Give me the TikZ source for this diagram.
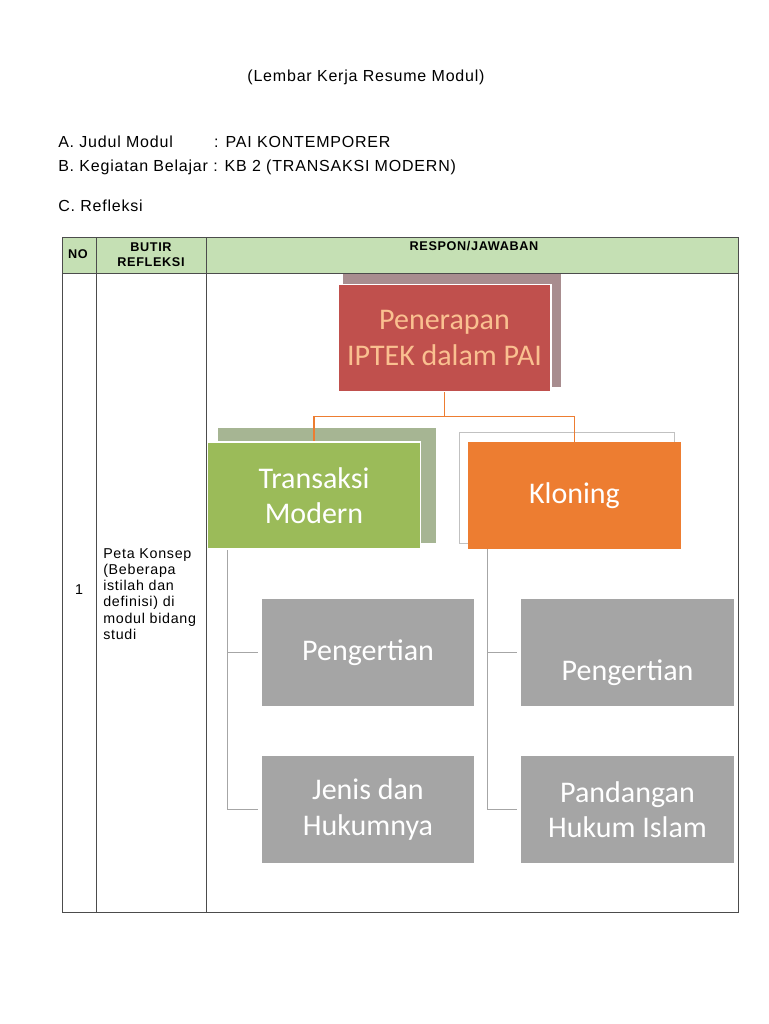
\documentclass[tikz,border=0pt]{standalone}
\usepackage{fontspec}
\setmainfont{Liberation Sans}[LetterSpace=5]
\newfontfamily\boxfont{Carlito}
\usetikzlibrary{backgrounds}
\definecolor{hdrgreen}{HTML}{C5E0B4}
\definecolor{rootred}{HTML}{C0504D}
\definecolor{rootshadow}{HTML}{A88D8F}
\definecolor{rootink}{HTML}{FAC090}
\definecolor{kbgreen}{HTML}{9BBB59}
\definecolor{kbshadow}{HTML}{A6B593}
\definecolor{klorange}{HTML}{ED7D31}
\definecolor{subgray}{HTML}{A5A5A5}
\definecolor{linkgray}{HTML}{A6A6A6}
\begin{document}
\begin{tikzpicture}[x=0.75pt,y=-0.75pt,
    docline/.style={anchor=west,inner sep=0pt,font=\fontsize{12pt}{14pt}\selectfont},
    hdr/.style={inner sep=0pt,align=center,font=\fontsize{9.5pt}{11.5pt}\selectfont\bfseries},
    cell/.style={inner sep=0pt,align=left,font=\fontsize{10.7pt}{12.2pt}\selectfont},
    tabline/.style={black!70,line width=0.6pt},
    conc/.style={minimum width=159.75pt,minimum height=80.25pt,inner sep=0pt,align=center,
      text=white,font=\boxfont\fontsize{22.5pt}{26.5pt}\selectfont},
    rootbox/.style={conc,fill=rootred,draw=white,line width=1.2pt,text=rootink},
    kbbox/.style={conc,fill=kbgreen,draw=white,line width=1.2pt},
    klbox/.style={conc,fill=klorange},
    subbox/.style={conc,fill=subgray,minimum width=159pt},
    toplink/.style={klorange,line width=0.8pt},
    sublink/.style={linkgray,line width=0.8pt,shorten >=3pt}]
  \useasboundingbox (0,0) rectangle (768,1024);
  % heading
  \node[docline,anchor=center] (judul) at (366,77) {(Lembar Kerja Resume Modul)};
  \node[docline] (modul) at (58,142) {\makebox[117pt][l]{A. Judul Modul}: PAI KONTEMPORER};
  \node[docline] (kb) at (58,167) {B. Kegiatan Belajar : KB 2 (TRANSAKSI MODERN)};
  \node[docline] (refl) at (58,206) {C. Refleksi};
  % table
  \fill[hdrgreen] (62,237) rectangle (738,273);
  \draw[tabline] (62,237) rectangle (738,912);
  \draw[tabline] (62,273) -- (738,273) (96,237) -- (96,912) (206,237) -- (206,912);
  \node[hdr] (no) at (78,254) {NO};
  \node[hdr] (butir) at (151,255) {BUTIR\\REFLEKSI};
  \node[hdr] (respon) at (474,246) {RESPON/JAWABAN};
  \node[cell] (nomor) at (79,590) {1};
  \node[cell,anchor=north west] (peta) at (103,548)
    {Peta Konsep\\(Beberapa\\istilah dan\\definisi) di\\modul bidang\\studi};
  % concept map
  \node[rootbox] (iptek) at (444.5,338) {Penerapan\\IPTEK dalam PAI};
  \node[kbbox] (trans) at (314,495.5) {Transaksi\\Modern};
  \node[klbox] (klon) at (574.5,495.5) {Kloning};
  \node[subbox] (tdef) at (368,652.5) {Pengertian};
  \node[subbox] (tjenis) at (368,809.5) {Jenis dan\\Hukumnya};
  \node[subbox,minimum width=159.75pt] (kdef) at (627.5,652.5) {\raisebox{-21pt}[0pt][0pt]{Pengertian}};
  \node[subbox,minimum width=159.75pt] (kpandang) at (627.5,809.5) {Pandangan\\Hukum Islam};
  \begin{pgfonlayer}{background}
    \fill[white] (0,0) rectangle (768,1024);
    \fill[rootshadow] (343,273) rectangle (561,387);
    \fill[kbshadow] (218,428) rectangle (436,543);
    \draw[linkgray!70,fill=white] (459,432) rectangle (674,543);
    \draw[toplink] (iptek.south) -- ++(0,24) -| (trans.north);
    \draw[toplink] (iptek.south) -- ++(0,24) -| (klon.north);
    \draw[sublink] ([xshift=15.75pt]trans.south west) |- (tdef.west);
    \draw[sublink] ([xshift=15.75pt]trans.south west) |- (tjenis.west);
    \draw[sublink] ([xshift=15pt]klon.south west) |- (kdef.west);
    \draw[sublink] ([xshift=15pt]klon.south west) |- (kpandang.west);
  \end{pgfonlayer}
\end{tikzpicture}
\end{document}
